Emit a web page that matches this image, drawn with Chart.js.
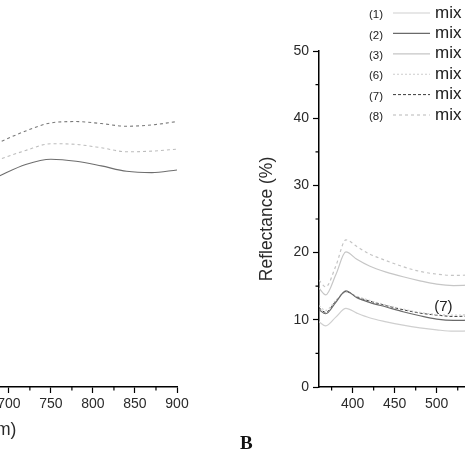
<!DOCTYPE html>
<html>
<head>
<meta charset="utf-8">
<script src="https://cdn.jsdelivr.net/npm/chart.js@4/dist/chart.umd.min.js"></script>
<style>
html, body { margin: 0; padding: 0; background: #fff; width: 465px; height: 465px; overflow: hidden; position: relative; }
.box { position: absolute; top: 0; height: 465px; width: 553px; }
#boxA { left: -356px; }
#boxB { left: 240px; }
#lblB { position: absolute; left: 240px; top: 432px; font: bold 19px "Liberation Serif", serif; color: #111; }
</style>
</head>
<body>
<div class="box" id="boxA"><canvas id="chartA"></canvas></div>
<div class="box" id="boxB"><canvas id="chartB"></canvas></div>
<div id="lblB">B</div>
<script>
// wavelength (nm) grids
var wlA = [685, 720, 750, 780, 810, 840, 870, 900];
var wlB = [360, 368, 380, 392, 405, 420, 440, 460, 480, 500, 520, 545];

// panel A (visible part only)
var a7 = [36.2, 38.1, 39.3, 39.5, 39.2, 38.8, 39.0, 39.5];
var a8 = [33.7, 35.2, 36.2, 36.1, 35.6, 35.0, 35.1, 35.4];
var a2 = [31.2, 33.1, 33.9, 33.6, 32.9, 32.1, 31.9, 32.3];

// panel B
var mix1 = [9.7, 9.1, 10.4, 11.7, 11.0, 10.3, 9.7, 9.2, 8.8, 8.5, 8.3, 8.4];
var mix2 = [11.5, 10.9, 12.6, 14.3, 13.3, 12.6, 11.9, 11.2, 10.6, 10.1, 9.9, 10.0];
var mix3 = [14.7, 13.7, 16.7, 20.1, 19.0, 18.0, 17.1, 16.4, 15.8, 15.3, 15.1, 15.2];
var mix6 = [12.1, 11.4, 12.9, 14.1, 13.5, 12.9, 12.2, 11.6, 11.1, 10.8, 10.7, 10.8];
var mix7 = [11.8, 11.1, 12.8, 14.2, 13.4, 12.8, 12.1, 11.5, 11.0, 10.7, 10.5, 10.6];
var mix8 = [15.9, 14.9, 18.0, 21.9, 20.9, 19.8, 18.8, 17.9, 17.2, 16.8, 16.6, 16.7];

var legendNums = ['(1)', '(2)', '(3)', '(6)', '(7)', '(8)'];
var legendText = 'mix';
var xTicks = [400, 450, 500, 550, 600, 650, 700, 750, 800, 850, 900];
var xMinor = [375, 425, 475, 525, 575, 625, 675, 725, 775, 825, 875];
var yMinor = [5, 15, 25, 35, 45];
var note7 = {x: 508, y: 11.9, text: '(7)'};

Chart.defaults.font.family = '"Liberation Sans", Arial, sans-serif';
Chart.defaults.color = '#2a2a2a';

function pts(xs, ys) {
    return xs.map(function (x, i) { return {x: x, y: ys[i]}; });
}

function line(data, color, dash, width) {
    return {
        data: data, borderColor: color, borderDash: dash, borderWidth: width || 1,
        pointRadius: 0, fill: false, cubicInterpolationMode: 'monotone'
    };
}

var minorTicks = {
    id: 'minorTicks',
    afterDraw: function (chart) {
        var ctx = chart.ctx, x = chart.scales.x, y = chart.scales.y;
        ctx.save();
        ctx.strokeStyle = '#000';
        ctx.lineWidth = 1.2;
        ctx.beginPath();
        xMinor.forEach(function (v) {
            var px = x.getPixelForValue(v);
            ctx.moveTo(px, x.top); ctx.lineTo(px, x.top + 3.5);
        });
        yMinor.forEach(function (v) {
            var py = y.getPixelForValue(v);
            ctx.moveTo(y.right, py); ctx.lineTo(y.right - 3.5, py);
        });
        ctx.stroke();
        ctx.restore();
    }
};

var sideLegend = {
    id: 'sideLegend',
    afterDraw: function (chart) {
        var ctx = chart.ctx, x0 = chart.chartArea.left;
        ctx.save();
        chart.data.datasets.forEach(function (ds, i) {
            var yy = 13 + i * 20.4;
            ctx.fillStyle = '#222';
            ctx.textAlign = 'left';
            ctx.textBaseline = 'middle';
            ctx.font = '11.5px "Liberation Sans"';
            ctx.fillText(legendNums[i], x0 + 50, yy + 2);
            ctx.strokeStyle = ds.borderColor;
            ctx.lineWidth = ds.borderWidth;
            ctx.setLineDash(ds.borderDash || []);
            ctx.beginPath();
            ctx.moveTo(x0 + 74, yy); ctx.lineTo(x0 + 111, yy);
            ctx.stroke();
            ctx.setLineDash([]);
            ctx.font = '17px "Liberation Sans"';
            ctx.fillText(legendText, x0 + 116, yy);
        });
        // curve annotation
        ctx.font = '15px "Liberation Sans"';
        ctx.textAlign = 'center';
        ctx.fillText(note7.text, chart.scales.x.getPixelForValue(note7.x), chart.scales.y.getPixelForValue(note7.y));
        ctx.restore();
    }
};

function opts() {
    return {
        responsive: true,
        maintainAspectRatio: false,
        animation: false,
        layout: {padding: {top: 51, right: 20, bottom: 0, left: 0}},
        plugins: {legend: {display: false}, tooltip: {enabled: false}},
        scales: {
            x: {
                type: 'linear', min: 360, max: 900,
                afterFit: function (s) { s.height = 78; },
                afterBuildTicks: function (s) { s.ticks = xTicks.map(function (v) { return {value: v}; }); },
                ticks: {font: {size: 14}, padding: 3, maxRotation: 0, autoSkip: false},
                grid: {drawOnChartArea: false, tickLength: 6, color: '#000', tickWidth: 1.2},
                border: {color: '#000', width: 1.5},
                title: {display: true, text: 'Wavelength (nm)', font: {size: 17.5}, padding: {top: 0, bottom: 24.5}}
            },
            y: {
                min: 0, max: 50,
                afterFit: function (s) { s.width = 79; },
                ticks: {stepSize: 10, font: {size: 14}, padding: 4},
                grid: {drawOnChartArea: false, tickLength: 6, color: '#000', tickWidth: 1.2},
                border: {color: '#000', width: 1.5},
                title: {display: true, text: 'Reflectance (%)', font: {size: 17.5}, padding: {top: 16.5, bottom: 0}}
            }
        }
    };
}

new Chart(document.getElementById('chartA'), {
    type: 'line',
    data: {
        datasets: [
            line(pts(wlA, a7), '#7a7a7a', [3, 3], 1.1),
            line(pts(wlA, a8), '#bdbdbd', [3, 3], 1.1),
            line(pts(wlA, a2), '#6e6e6e', [], 1.1)
        ]
    },
    options: opts(),
    plugins: [minorTicks]
});

new Chart(document.getElementById('chartB'), {
    type: 'line',
    data: {
        datasets: [
            line(pts(wlB, mix1), '#cfcfcf', [], 1.2),
            line(pts(wlB, mix2), '#6a6a6a', [], 1.2),
            line(pts(wlB, mix3), '#c6c6c6', [], 1.2),
            line(pts(wlB, mix6), '#cdcdcd', [2, 2], 1.1),
            line(pts(wlB, mix7), '#3a3a3a', [3, 2], 1),
            line(pts(wlB, mix8), '#c4c4c4', [3, 3], 1.2)
        ]
    },
    options: opts(),
    plugins: [minorTicks, sideLegend]
});
</script>
</body>
</html>
